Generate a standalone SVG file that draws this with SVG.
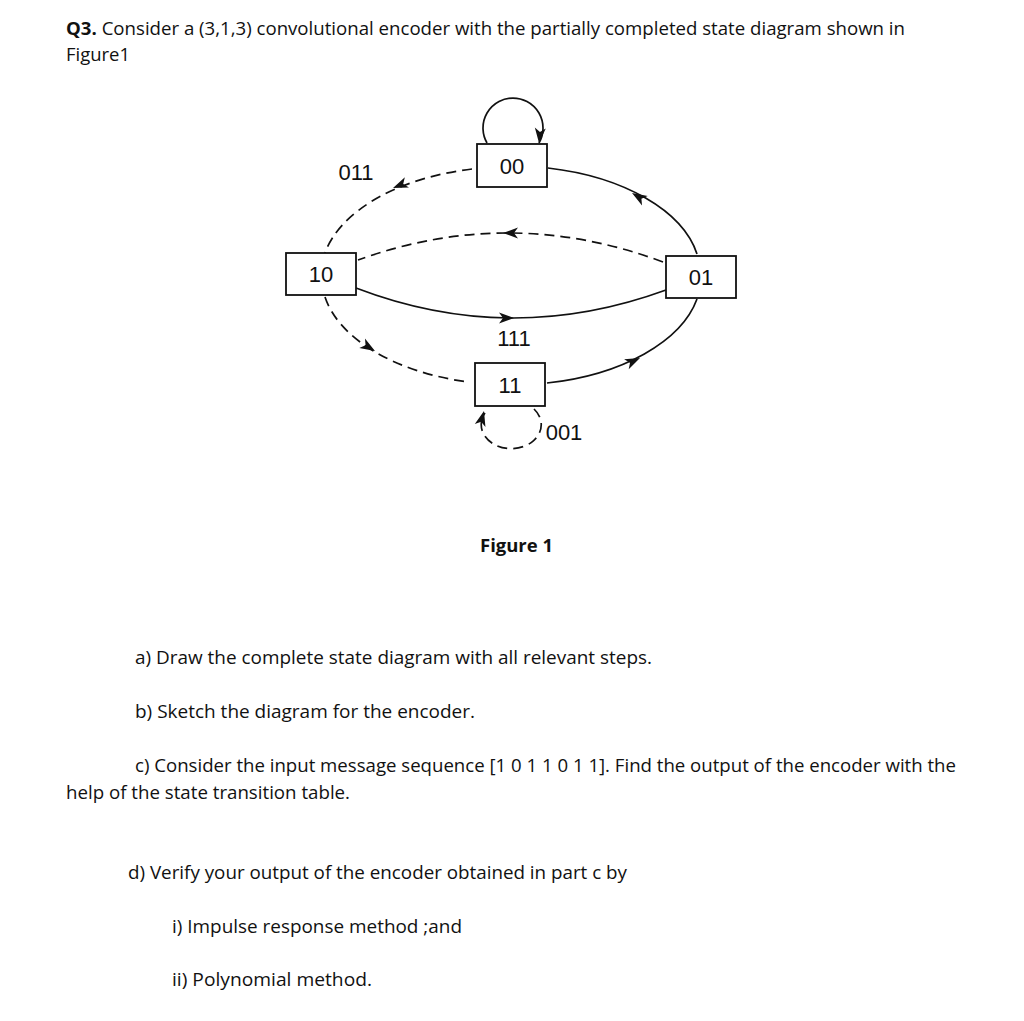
<svg xmlns="http://www.w3.org/2000/svg" xmlns:xlink="http://www.w3.org/1999/xlink" width="1024" height="1021" viewBox="0 0 1024 1021">
<style>
.t{font-family:"Open Sans","Noto Sans","Liberation Sans",sans-serif;font-size:18px;fill:#111}
.b{font-weight:bold}
.lbl{font-family:"Liberation Sans",Arial,sans-serif;font-size:22px;fill:#111;text-anchor:middle}
.box{fill:#fff;stroke:#111;stroke-width:1.8}
.s{fill:none;stroke:#111;stroke-width:1.7}
.d{fill:none;stroke:#111;stroke-width:1.7;stroke-dasharray:10 6}
</style>
<defs>
<path id="ah" d="M0,0 L-15,-5.5 L-11,0 L-15,5.5 Z" fill="#111"/>
</defs>
<rect width="1024" height="1021" fill="#fff"/>
<text class="t" x="66" y="35" textLength="839" lengthAdjust="spacingAndGlyphs"><tspan class="b">Q3.</tspan> Consider a (3,1,3) convolutional encoder with the partially completed state diagram shown in</text>
<text class="t" x="66" y="61" textLength="64" lengthAdjust="spacingAndGlyphs">Figure1</text>
<g id="connectors">
<path class="s" d="M487,143 A30,30 0 1,1 539,143"/>
<path class="d" d="M472,169 A190,108 0 0,0 325,253"/>
<path class="s" d="M697,254 A190,108 0 0,0 548,168"/>
<path class="d" d="M663,262 Q510,205 358,260"/>
<path class="s" d="M356,288 Q510,347 666,290"/>
<path class="d" d="M325,297 A190,108 0 0,0 468,382"/>
<path class="s" d="M547,383 A190,108 0 0,0 697,299"/>
<path class="d" d="M534,409 A30,24 0 1,1 485,413"/>
<use xlink:href="#ah" transform="translate(539,143) rotate(95)"/>
<use xlink:href="#ah" transform="translate(393,188) rotate(158)"/>
<use xlink:href="#ah" transform="translate(632,193) rotate(211)"/>
<use xlink:href="#ah" transform="translate(503,233) rotate(180)"/>
<use xlink:href="#ah" transform="translate(514,318) rotate(0)"/>
<use xlink:href="#ah" transform="translate(375,351) rotate(31)"/>
<use xlink:href="#ah" transform="translate(640,358) rotate(-25)"/>
<use xlink:href="#ah" transform="translate(484,411) rotate(-75)"/>
</g>
<g id="node-00"><rect class="box" x="477" y="144" width="70" height="43"/><text class="lbl" x="512" y="174">00</text></g>
<g id="node-10"><rect class="box" x="286" y="253" width="70" height="42"/><text class="lbl" x="321" y="282">10</text></g>
<g id="node-01"><rect class="box" x="666" y="256" width="70" height="42"/><text class="lbl" x="701" y="285">01</text></g>
<g id="node-11"><rect class="box" x="475" y="363" width="70" height="43"/><text class="lbl" x="510" y="393">11</text></g>
<text class="lbl" x="356" y="180">011</text>
<text class="lbl" x="514" y="346">111</text>
<text class="lbl" x="564" y="440">001</text>
<text class="t b" x="480" y="552" textLength="73" lengthAdjust="spacingAndGlyphs">Figure 1</text>
<text class="t" x="135" y="664" textLength="517" lengthAdjust="spacingAndGlyphs">a)  Draw the complete state diagram with all relevant steps.</text>
<text class="t" x="135" y="718" textLength="340" lengthAdjust="spacingAndGlyphs">b)  Sketch the diagram for the encoder.</text>
<text class="t" x="135" y="772" textLength="821" lengthAdjust="spacingAndGlyphs">c) Consider the input message sequence [1 0 1 1 0 1 1]. Find the output of the encoder with the</text>
<text class="t" x="66" y="799" textLength="284" lengthAdjust="spacingAndGlyphs">help of the state transition table.</text>
<text class="t" x="128" y="879" textLength="499" lengthAdjust="spacingAndGlyphs">d) Verify your output of the encoder obtained in part c by</text>
<text class="t" x="172" y="933" textLength="290" lengthAdjust="spacingAndGlyphs">i)  Impulse response method ;and</text>
<text class="t" x="172" y="986" textLength="200" lengthAdjust="spacingAndGlyphs">ii)  Polynomial method.</text>
</svg>
